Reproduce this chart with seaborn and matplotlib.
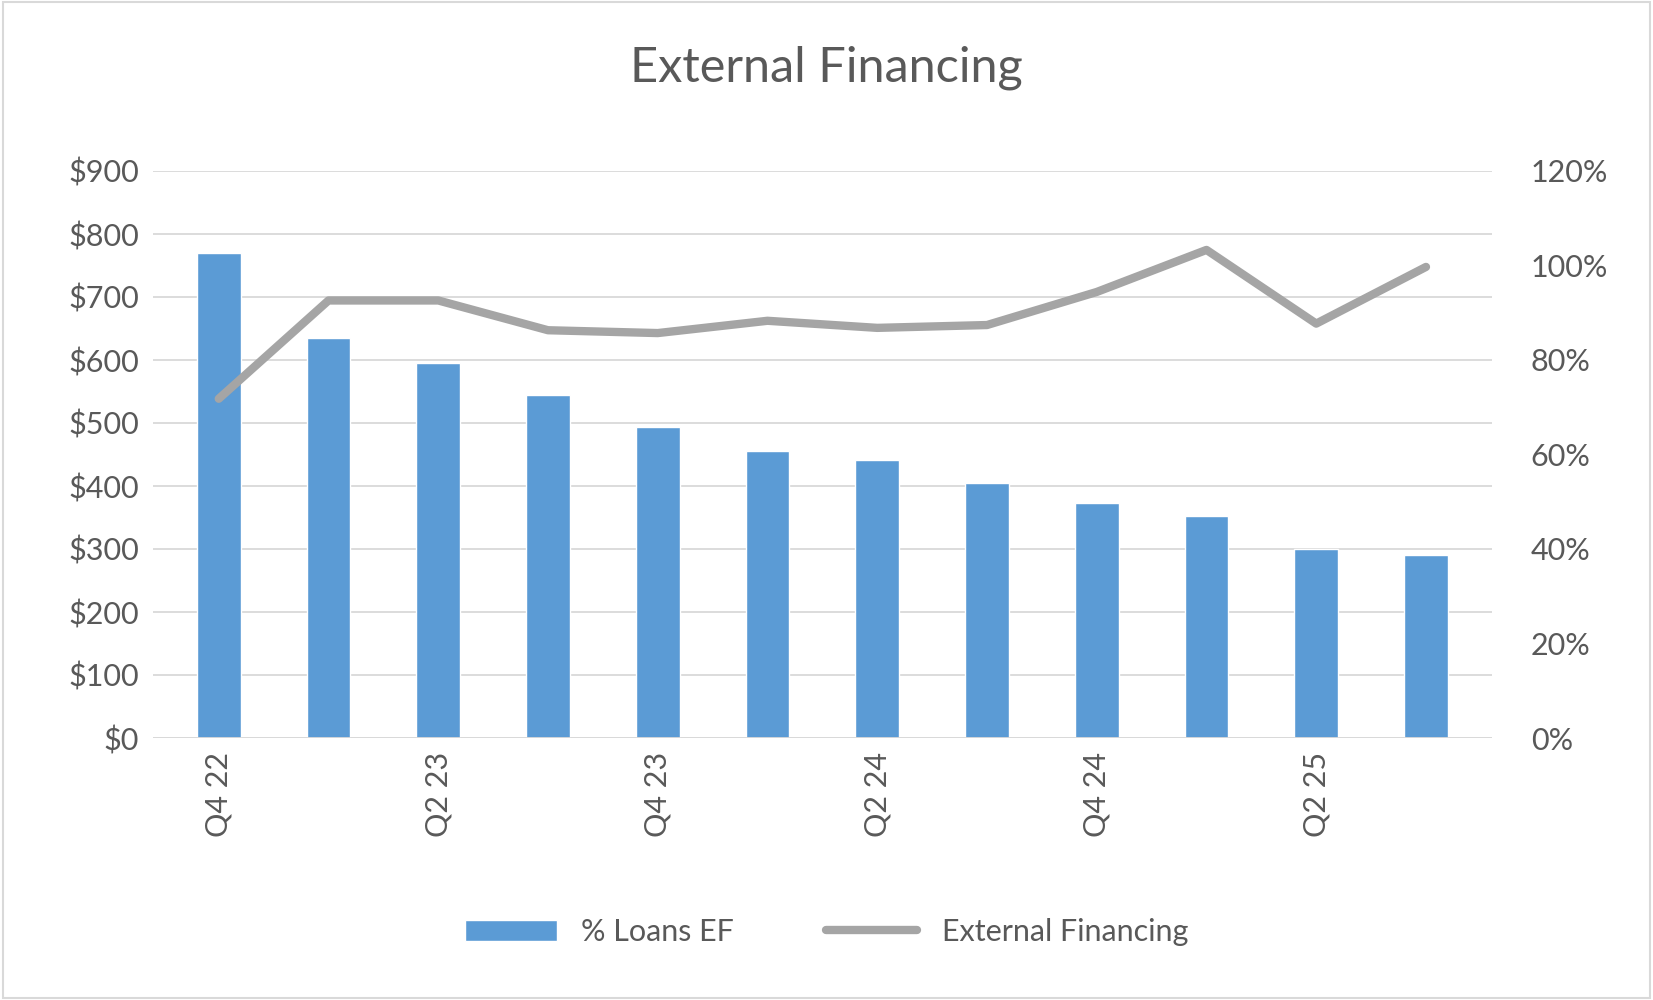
import numpy as np
import pandas as pd
import seaborn as sns
import matplotlib.pyplot as plt
from matplotlib.patches import Rectangle

quarters = ["Q4 22", "Q1 23", "Q2 23", "Q3 23", "Q4 23", "Q1 24",
            "Q2 24", "Q3 24", "Q4 24", "Q1 25", "Q2 25", "Q3 25"]
loans = [770, 635, 595, 545, 493, 456, 442, 405, 373, 353, 300, 291]
ext_pct = [71.8, 92.6, 92.6, 86.3, 85.7, 88.3, 86.8, 87.4, 94.4, 103.3, 87.7, 99.7]

sns.set_theme(style="white")
plt.rcParams['font.family'] = ['Lato', 'DejaVu Sans']
txt = "#595959"

df = pd.DataFrame({"q": quarters, "loans": loans, "pct": ext_pct})

fig = plt.figure(figsize=(16.53, 10), dpi=100)
ax = fig.add_axes([0.0925, 0.262, 0.81, 0.567])
sns.barplot(data=df, x="q", y="loans", color="#5B9BD5", saturation=1,
            width=0.4, ax=ax, label="% Loans EF")
ax.set_ylim(0, 900)
ax.set_yticks(range(0, 901, 100))
ax.set_yticklabels([f"${v}" for v in range(0, 901, 100)])
ax.set_xlim(-0.6, len(quarters) - 0.4)
ax.set_xticks(range(len(quarters)))
ax.set_xticklabels([q if i % 2 == 0 else "" for i, q in enumerate(quarters)], rotation=90)
ax.set_xlabel("")
ax.set_ylabel("")
ax.grid(axis="y", color="#D9D9D9", linewidth=1.3)
ax.set_axisbelow(True)
for s in ax.spines.values():
    s.set_visible(False)
ax.axhline(0, color="#D9D9D9", linewidth=1.3)
ax.tick_params(axis="both", colors=txt, labelsize=22, length=0, pad=10)

ax2 = ax.twinx()
sns.lineplot(x=np.arange(len(quarters)), y=df["pct"], color="#A5A5A5",
             linewidth=6, ax=ax2, label="External Financing", legend=False)
ax2.set_ylim(0, 120)
ax2.set_yticks(range(0, 121, 20))
ax2.set_yticklabels([f"{v}%" for v in range(0, 121, 20)])
ax2.set_ylabel("")
for s in ax2.spines.values():
    s.set_visible(False)
ax2.tick_params(axis="y", colors=txt, labelsize=22, length=0, pad=28)

fig.suptitle("External Financing", x=0.5, y=0.955, fontsize=35, color=txt)

h1, l1 = ax.get_legend_handles_labels()
h2, l2 = ax2.get_legend_handles_labels()
if ax.get_legend():
    ax.get_legend().remove()
fig.legend(h1 + h2, l1 + l2, loc="center", bbox_to_anchor=(0.5, 0.068), ncol=2,
           frameon=False, fontsize=22, labelcolor=txt, handlelength=3, columnspacing=3)

fig.patches.append(Rectangle((0.002, 0.002), 0.996, 0.996, transform=fig.transFigure,
                             fill=False, edgecolor="#D9D9D9", linewidth=1.5))
fig.savefig("out.png", dpi=100, facecolor="white")
